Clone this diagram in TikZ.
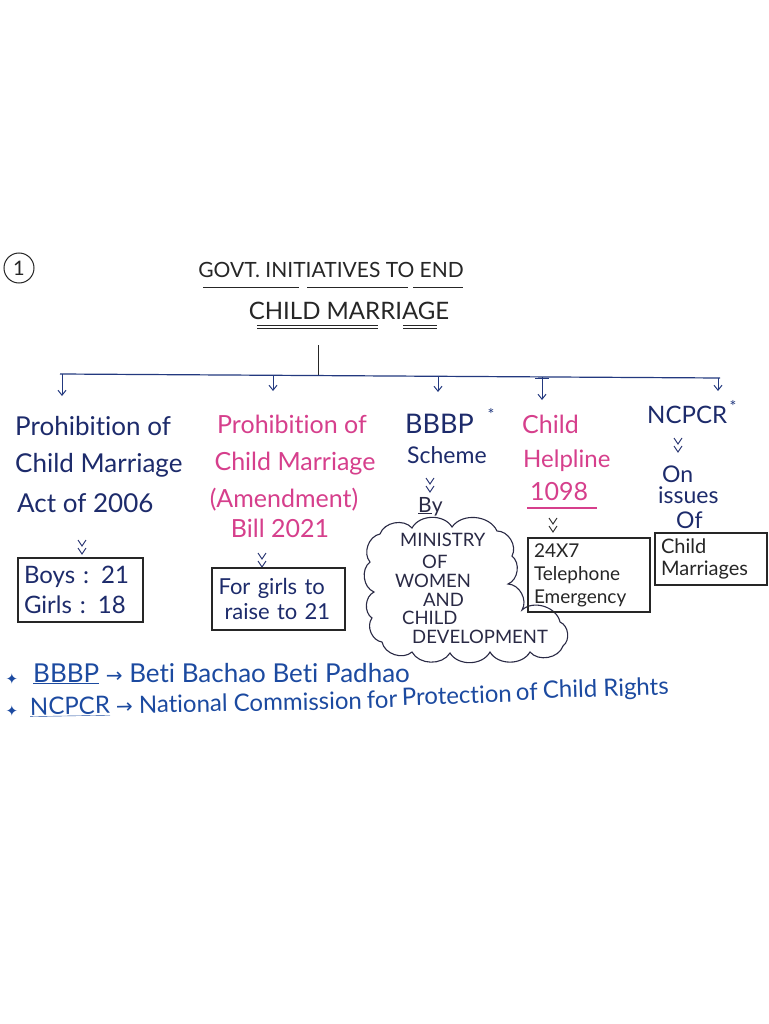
\documentclass[tikz,border=0pt]{standalone}
\usepackage{fontspec}
\setmainfont{Lato}[Ligatures=NoCommon]
\newfontfamily\djv{DejaVu Sans}
\usetikzlibrary{arrows.meta}
\definecolor{navy}{HTML}{1D2B6B}
\definecolor{pinkink}{HTML}{D63F8C}
\definecolor{ink}{HTML}{262626}
\definecolor{busblue}{HTML}{23397F}
\definecolor{noteblue}{HTML}{1C4AA0}
\definecolor{cloudink}{HTML}{2A2A45}
\newcommand\setfs[2]{\fontsize{#1}{#2}\selectfont}
\tikzset{dchev/.pic={\draw[line width=0.9pt, pic actions] (-4,0)--(0,6)--(4,0) (-4,8)--(0,14)--(4,8);}}
\begin{document}
\begin{tikzpicture}[x=1pt,y=-1pt,
  lbl/.style={inner sep=0pt, anchor=base west},
  clbl/.style={inner sep=0pt, anchor=base},
  navyhead/.style={lbl, text=navy, font=\setfs{26}{37}},
  pinkhead/.style={clbl, text=pinkink, font=\setfs{25}{37}},
  headsm/.style={lbl, font=\setfs{25}{30}},
  boxstyle/.style={draw=ink, line width=1.1pt, inner sep=0pt, align=left},
  cloudtxt/.style={lbl, text=cloudink, font=\setfs{18.5}{20}},
  arr/.style={-{Straight Barb[length=5pt,width=8pt]}, line width=1pt, draw=busblue},
  uline/.style={line width=1pt, draw=ink},
  note/.style={lbl, text=noteblue, font=\setfs{25}{28}},
  note2/.style={lbl, text=noteblue, font=\setfs{24}{28}, rotate=1.8},
  star/.style={inner sep=0pt, text=noteblue, font=\djv\setfs{15}{15}}
]
\useasboundingbox[fill=white] (0,0) rectangle (768,1024);

% circled number
\node[draw=ink, circle, line width=1pt, minimum size=30pt, inner sep=0pt, font=\setfs{20}{24}, text=ink] (num) at (19,268) {1};

% title
\node[inner sep=0pt, text=ink, font=\setfs{21}{24}] (t1) at (331,270) {GOVT. INITIATIVES TO END};
\node[inner sep=0pt, text=ink, font=\setfs{24}{28}] (t2) at (349,311) {CHILD MARRIAGE};
\draw[uline] (203,287) -- (299,287) (307,287) -- (408,287) (413,287) -- (463,287);
\draw[uline] (257,325) -- (378,325) (257,328) -- (378,328) (403,325) -- (437,325) (403,328) -- (437,328);

% trunk and bus
\coordinate (trunk) at (318,345);
\coordinate (bus) at (318,375);
\coordinate (busL) at (60,374);
\coordinate (busR) at (720,378);
\draw[line width=1pt, draw=ink] (trunk) -- (bus);
\draw[line width=1.2pt, draw=busblue] (busL) -- (busR);

\coordinate (a1) at (62,374);  \coordinate (e1) at (62,396);
\coordinate (a2) at (273,375); \coordinate (e2) at (273,391);
\coordinate (a3) at (438,376); \coordinate (e3) at (438,392);
\coordinate (a4) at (542,377); \coordinate (e4) at (542,400);
\coordinate (a5) at (718,378); \coordinate (e5) at (718,391);
\draw[arr] (a1) -- (e1);
\draw[arr] (a2) -- (e2);
\draw[arr] (a3) -- (e3);
\draw[arr] (a4) -- (e4);
\draw[line width=1pt, draw=busblue] (535,378) -- (549,378);
\draw[arr] (a5) -- (e5);

% column 1
\node[navyhead] (h1a) at (15,435) {Prohibition of};
\node[navyhead] (h1b) at (15,472) {Child Marriage};
\node[navyhead] (h1c) at (17,512) {Act of 2006};
\pic[draw=navy] at (82,540) {dchev};
\node[boxstyle, text=navy, font=\setfs{24}{30}, minimum width=125pt, minimum height=64pt, text width=113pt] (b1) at (80.5,590) {Boys : 21\\Girls : 18};

% column 2
\node[pinkhead] (h2a) at (292,433) {Prohibition of};
\node[pinkhead] (h2b) at (295,470) {Child Marriage};
\node[pinkhead] (h2c) at (284,507) {(Amendment)};
\node[pinkhead] (h2d) at (280,537) {Bill 2021};
\pic[draw=navy] at (262,553) {dchev};
\node[boxstyle, text=navy, font=\setfs{22}{25}, minimum width=133pt, minimum height=62pt, text width=120pt] (b2) at (278.5,599) {For girls to\\ \hspace*{6pt}raise to 21};

% column 3
\node[headsm, text=navy, font=\setfs{27}{30}] (h3a) at (405,433) {BBBP};
\node[inner sep=0pt, text=busblue, font=\setfs{16}{16}] (s3) at (491,414) {*};
\node[headsm, text=navy, font=\setfs{23}{30}] (h3b) at (407,463) {Scheme};
\pic[draw=navy] at (430,478) {dchev};
\node[lbl, text=cloudink, font=\setfs{21}{24}] (by) at (418,512) {\underline{B}y};
\draw[line width=1.1pt, draw=cloudink] (380,534) to[bend left=60] (412,528) to[bend left=60] (452,527) to[bend left=60] (497,531)
  to[bend left=60] (512,556) to[bend left=60] (508,584) to[bend left=60] (522,610) to[bend left=60] (560,622)
  to[bend left=60] (563,646) to[bend left=60] (530,652) to[bend left=60] (490,652) to[bend left=60] (450,653)
  to[bend left=60] (412,652) to[bend left=60] (382,642) to[bend left=60] (372,618) to[bend left=60] (374,592)
  to[bend left=60] (370,562) to[bend left=60] (380,534);
\node[cloudtxt] (c1) at (400,546) {MINISTRY};
\node[cloudtxt] (c2) at (422,568) {OF};
\node[cloudtxt] (c3) at (395,587) {WOMEN};
\node[cloudtxt] (c4) at (423,606) {AND};
\node[cloudtxt] (c5) at (402,624) {CHILD};
\node[cloudtxt] (c6) at (412,643) {DEVELOPMENT};

% column 4
\node[headsm, text=pinkink, font=\setfs{25}{30}] (h4a) at (522,433) {Child};
\node[headsm, text=pinkink, font=\setfs{24}{30}] (h4b) at (523,467) {Helpline};
\node[headsm, text=pinkink, font=\setfs{25}{30}] (h4c) at (530,500) {1098};
\draw[line width=1.1pt, draw=pinkink] (527,508) -- (597,508);
\pic[draw=ink] at (553,518) {dchev};
\node[boxstyle, text=ink, font=\setfs{19}{23}, minimum width=122pt, minimum height=74pt, text width=110pt] (b4) at (589,575) {24X7\\Telephone\\Emergency};

% column 5
\node[headsm, text=navy, font=\setfs{24}{30}] (h5a) at (647,423) {NCPCR};
\node[inner sep=0pt, text=busblue, font=\setfs{16}{16}] (s5) at (733,406) {*};
\pic[draw=navy] at (678,438) {dchev};
\node[headsm, text=navy, font=\setfs{23}{28}] (h5b) at (662,482) {On};
\node[headsm, text=navy, font=\setfs{23}{28}] (h5c) at (658,503) {issues};
\node[headsm, text=navy, font=\setfs{23}{28}] (h5d) at (676,528) {Of};
\node[boxstyle, text=ink, font=\setfs{20}{22}, minimum width=112pt, minimum height=52pt, text width=100pt] (b5) at (711,559) {Child\\Marriages};

% notes
\node[star] (n1s) at (12,679) {✦};
\node[note, font=\setfs{26}{28}] (n1) at (33,682) {\underline{BBBP} {\djv\setfs{20}{20}→} Beti Bachao Beti Padhao};
\node[star] (n2s) at (12,711) {✦};
\node[note2, rotate=-0.8] (n2a) at (30,715) {\underline{NCPCR} {\djv\setfs{20}{20}→} National Commission};
\node[note2] (n2b) at (367,708.5) {for};
\node[note2] (n2c) at (402,705.5) {Protection};
\node[note2] (n2d) at (516,700.5) {of};
\node[note2] (n2e) at (543,698.5) {Child Rights};
\end{tikzpicture}
\end{document}
